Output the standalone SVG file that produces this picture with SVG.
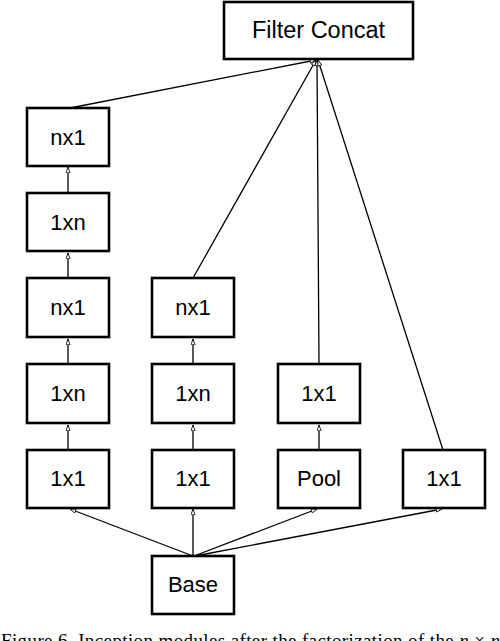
<svg xmlns="http://www.w3.org/2000/svg" width="500" height="641" viewBox="0 0 500 641">
<defs>
<style>
.box{fill:#fff;stroke:#000;stroke-width:2.6}
.lbl{font-family:"Liberation Sans",Arial,sans-serif;font-size:22px;text-anchor:middle;fill:#000}
.conn line{stroke:#000;stroke-width:1.3;marker-end:url(#ah)}
.cap{font-family:"Liberation Serif","Times New Roman",serif;font-size:19px;fill:#000}
</style>
<marker id="ah" viewBox="0 0 8 6" refX="7.5" refY="3" markerWidth="7" markerHeight="5" markerUnits="userSpaceOnUse" orient="auto">
<path d="M0.5,0.5 L7.5,3 L0.5,5.5 z" fill="#fff" stroke="#000" stroke-width="1"/>
</marker>
</defs>
<rect width="500" height="641" fill="#fff"/>
<g class="conn" id="connectors">
<line x1="193" y1="556" x2="70" y2="509"/>
<line x1="193" y1="556" x2="193" y2="509"/>
<line x1="194" y1="556" x2="317" y2="509"/>
<line x1="195" y1="556" x2="442" y2="509"/>
<line x1="68" y1="450" x2="68" y2="425"/>
<line x1="68" y1="364" x2="68" y2="339"/>
<line x1="68" y1="278" x2="68" y2="253"/>
<line x1="68" y1="193" x2="68" y2="167"/>
<line x1="193" y1="450" x2="193" y2="425"/>
<line x1="193" y1="364" x2="193" y2="339"/>
<line x1="319" y1="450" x2="319" y2="425"/>
<line x1="70" y1="108" x2="316" y2="60"/>
<line x1="193" y1="278" x2="316" y2="60"/>
<line x1="319" y1="364" x2="317" y2="60"/>
<line x1="443" y1="450" x2="318" y2="60"/>
</g>
<g id="filter-concat"><rect class="box" x="224" y="2" width="189" height="57"/><text class="lbl" x="318.5" y="38" style="font-size:23.5px">Filter Concat</text></g>
<g id="c1r1"><rect class="box" x="27" y="108" width="82" height="58"/><text class="lbl" x="68" y="144.5">nx1</text></g>
<g id="c1r2"><rect class="box" x="27" y="193" width="82" height="58"/><text class="lbl" x="68" y="229.5">1xn</text></g>
<g id="c1r3"><rect class="box" x="27" y="278" width="82" height="59"/><text class="lbl" x="68" y="315">nx1</text></g>
<g id="c1r4"><rect class="box" x="27" y="364" width="82" height="59"/><text class="lbl" x="68" y="401">1xn</text></g>
<g id="c1r5"><rect class="box" x="27" y="450" width="82" height="58"/><text class="lbl" x="68" y="486">1x1</text></g>
<g id="c2r3"><rect class="box" x="152" y="278" width="82" height="59"/><text class="lbl" x="193" y="315">nx1</text></g>
<g id="c2r4"><rect class="box" x="152" y="364" width="82" height="59"/><text class="lbl" x="193" y="401">1xn</text></g>
<g id="c2r5"><rect class="box" x="152" y="450" width="82" height="58"/><text class="lbl" x="193" y="486">1x1</text></g>
<g id="c3r4"><rect class="box" x="278" y="364" width="82" height="59"/><text class="lbl" x="319" y="401">1x1</text></g>
<g id="c3r5"><rect class="box" x="278" y="450" width="82" height="58"/><text class="lbl" x="319" y="486">Pool</text></g>
<g id="c4r5"><rect class="box" x="403" y="450" width="82" height="58"/><text class="lbl" x="444" y="486">1x1</text></g>
<g id="base"><rect class="box" x="152" y="556" width="82" height="58"/><text class="lbl" x="193" y="592">Base</text></g>
<text class="cap" x="1" y="647" textLength="499" lengthAdjust="spacing">Figure 6. Inception modules after the factorization of the <tspan font-style="italic">n</tspan> × <tspan font-style="italic">n</tspan></text>
</svg>
